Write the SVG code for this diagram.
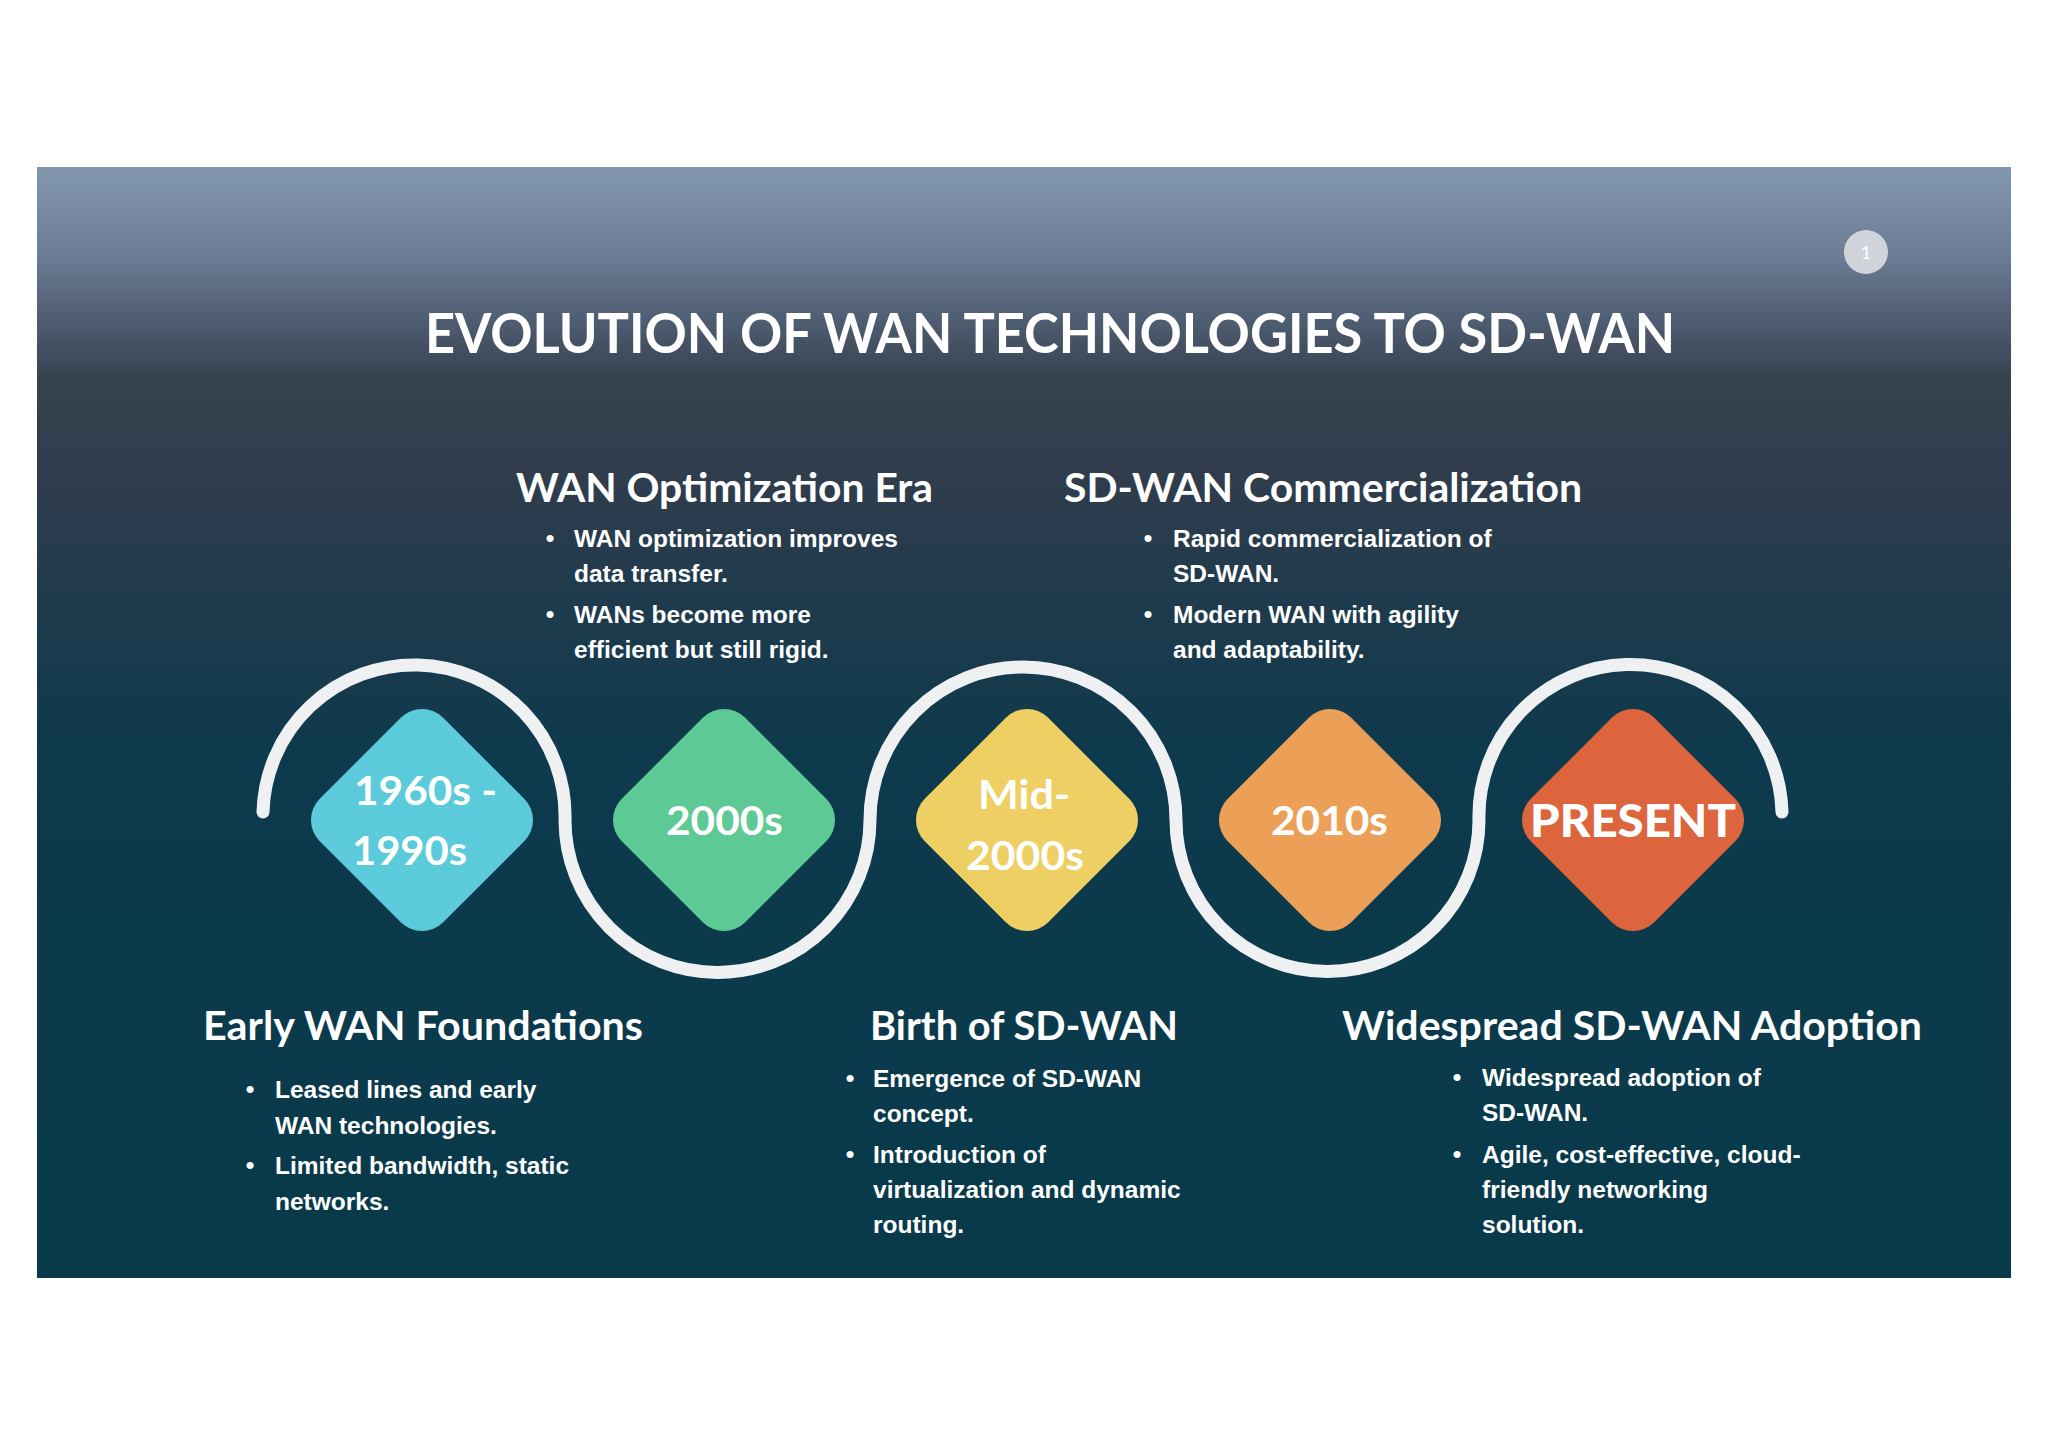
<svg xmlns="http://www.w3.org/2000/svg" width="2048" height="1447" viewBox="0 0 2048 1447">
  <defs>
    <linearGradient id="bg" x1="0" y1="0" x2="0" y2="1">
      <stop offset="0" stop-color="#8296ae"/>
      <stop offset="0.075" stop-color="#6d7f97"/>
      <stop offset="0.138" stop-color="#4f5d72"/>
      <stop offset="0.19" stop-color="#37424f"/>
      <stop offset="0.27" stop-color="#313d4d"/>
      <stop offset="0.39" stop-color="#1f3b4d"/>
      <stop offset="0.53" stop-color="#0d3a4c"/>
      <stop offset="1" stop-color="#083a4a"/>
    </linearGradient>
    <rect id="dia" x="-87.3" y="-87.3" width="174.6" height="174.6" rx="30" ry="30" transform="rotate(45)"/>
  </defs>
  <style>
    .title { font-family: Lato, "Open Sans", sans-serif; font-weight: 700; font-size: 55px; fill: #ffffff; }
    .head { font-family: Lato, "Open Sans", sans-serif; font-weight: 700; font-size: 40px; fill: #ffffff; }
    .lbl { font-family: Lato, "Open Sans", sans-serif; font-weight: 700; font-size: 40px; fill: #ffffff; }
    .lbl-big { font-family: Lato, "Open Sans", sans-serif; font-weight: 900; font-size: 46px; fill: #ffffff; }
    .bul { font-family: "Liberation Sans", Arial, sans-serif; font-weight: 700; font-size: 24.5px; fill: #ffffff; }
    .dot { font-family: "Liberation Sans", Arial, sans-serif; font-weight: 700; font-size: 24.5px; fill: #ffffff; text-anchor: middle; }
    .wave { fill: none; stroke: #eef0f2; stroke-width: 13; stroke-linecap: round; }
  </style>

  <rect x="0" y="0" width="2048" height="1447" fill="#ffffff"/>
  <rect id="slide" x="37" y="167" width="1974" height="1111" fill="url(#bg)"/>

  <g id="page-number">
    <circle cx="1866" cy="252" r="22" fill="#d0d4da"/>
    <text x="1866" y="259" font-family="Lato, sans-serif" font-size="18" fill="#ffffff" text-anchor="middle">1</text>
  </g>

  <g id="title">
    <text class="title" x="425" y="353" textLength="1250" lengthAdjust="spacingAndGlyphs">EVOLUTION OF WAN TECHNOLOGIES TO SD-WAN</text>
  </g>

  <g id="connectors">
    <path class="wave" d="M 263 812 A 1 1 0 0 1 565 820 A 1 1 0 0 0 870 820 A 1 1 0 0 1 1176 820 A 1 1 0 0 0 1479 820 A 1 1 0 0 1 1782 812"/>
  </g>

  <g id="node-1960s">
    <use href="#dia" transform="translate(422 820)" fill="#5bcbdb"/>
    <text class="lbl" x="354" y="805" textLength="143" lengthAdjust="spacingAndGlyphs">1960s -</text>
    <text class="lbl" x="352" y="865" textLength="115" lengthAdjust="spacingAndGlyphs">1990s</text>
  </g>
  <g id="node-2000s">
    <use href="#dia" transform="translate(724 820)" fill="#5dc994"/>
    <text class="lbl" x="666" y="835" textLength="117" lengthAdjust="spacingAndGlyphs">2000s</text>
  </g>
  <g id="node-mid2000s">
    <use href="#dia" transform="translate(1027 820)" fill="#eecf64"/>
    <text class="lbl" x="978" y="809" textLength="92" lengthAdjust="spacingAndGlyphs">Mid-</text>
    <text class="lbl" x="966" y="870" textLength="118" lengthAdjust="spacingAndGlyphs">2000s</text>
  </g>
  <g id="node-2010s">
    <use href="#dia" transform="translate(1330 820)" fill="#ec9f56"/>
    <text class="lbl" x="1271" y="835" textLength="117" lengthAdjust="spacingAndGlyphs">2010s</text>
  </g>
  <g id="node-present">
    <use href="#dia" transform="translate(1633 820)" fill="#dc653e"/>
    <text class="lbl-big" x="1530" y="837" textLength="206" lengthAdjust="spacingAndGlyphs">PRESENT</text>
  </g>

  <g id="section-wan-optimization">
    <text class="head" x="516" y="502" textLength="417" lengthAdjust="spacingAndGlyphs">WAN Optimization Era</text>
    <text class="dot" x="550" y="547">•</text>
    <text class="bul" x="574" y="547">WAN optimization improves</text>
    <text class="bul" x="574" y="582">data transfer.</text>
    <text class="dot" x="550" y="623">•</text>
    <text class="bul" x="574" y="623">WANs become more</text>
    <text class="bul" x="574" y="658">efficient but still rigid.</text>
  </g>

  <g id="section-sdwan-commercialization">
    <text class="head" x="1064" y="502" textLength="518" lengthAdjust="spacingAndGlyphs">SD-WAN Commercialization</text>
    <text class="dot" x="1148" y="547">•</text>
    <text class="bul" x="1173" y="547">Rapid commercialization of</text>
    <text class="bul" x="1173" y="582">SD-WAN.</text>
    <text class="dot" x="1148" y="623">•</text>
    <text class="bul" x="1173" y="623">Modern WAN with agility</text>
    <text class="bul" x="1173" y="658">and adaptability.</text>
  </g>

  <g id="section-early-wan">
    <text class="head" x="203" y="1040" textLength="440" lengthAdjust="spacingAndGlyphs">Early WAN Foundations</text>
    <text class="dot" x="250" y="1098">•</text>
    <text class="bul" x="275" y="1098">Leased lines and early</text>
    <text class="bul" x="275" y="1134">WAN technologies.</text>
    <text class="dot" x="250" y="1174">•</text>
    <text class="bul" x="275" y="1174">Limited bandwidth, static</text>
    <text class="bul" x="275" y="1210">networks.</text>
  </g>

  <g id="section-birth-sdwan">
    <text class="head" x="870" y="1040" textLength="308" lengthAdjust="spacingAndGlyphs">Birth of SD-WAN</text>
    <text class="dot" x="850" y="1087">•</text>
    <text class="bul" x="873" y="1087">Emergence of SD-WAN</text>
    <text class="bul" x="873" y="1122">concept.</text>
    <text class="dot" x="850" y="1163">•</text>
    <text class="bul" x="873" y="1163">Introduction of</text>
    <text class="bul" x="873" y="1198">virtualization and dynamic</text>
    <text class="bul" x="873" y="1233">routing.</text>
  </g>

  <g id="section-widespread">
    <text class="head" x="1342" y="1040" textLength="580" lengthAdjust="spacingAndGlyphs">Widespread SD-WAN Adoption</text>
    <text class="dot" x="1457" y="1086">•</text>
    <text class="bul" x="1482" y="1086">Widespread adoption of</text>
    <text class="bul" x="1482" y="1121">SD-WAN.</text>
    <text class="dot" x="1457" y="1163">•</text>
    <text class="bul" x="1482" y="1163">Agile, cost-effective, cloud-</text>
    <text class="bul" x="1482" y="1198">friendly networking</text>
    <text class="bul" x="1482" y="1233">solution.</text>
  </g>
</svg>
